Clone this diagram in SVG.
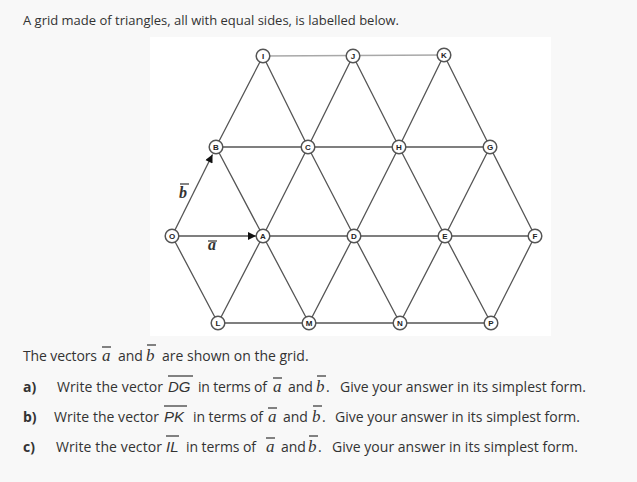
<svg xmlns="http://www.w3.org/2000/svg" width="637" height="482" viewBox="0 0 637 482">
<style>
.t{font-family:"Open Sans","Noto Sans",sans-serif;font-size:14px;fill:#333}
.tt{font-size:13px}
.bd{font-weight:bold}
.v{font-family:"Liberation Serif",serif;font-style:italic;font-size:17px;fill:#333}
.vs{font-family:"Liberation Sans",Arial,sans-serif;font-style:italic;font-size:15px;fill:#333}
.ob{stroke:#333;stroke-width:1.2}
.e{stroke:#555;stroke-width:1.3;fill:none}
.el{stroke:#a8a8a8;stroke-width:1.6;fill:none}
.n circle{fill:#fff;stroke:#555;stroke-width:1.5}
.n text{font-family:"Liberation Sans",Arial,sans-serif;font-weight:bold;font-size:8px;fill:#222;text-anchor:middle}
.vl{font-family:"Liberation Serif",serif;font-style:italic;font-weight:bold;font-size:16px;fill:#333}
</style>
<defs>
<marker id="arr" viewBox="0 0 10 10" refX="10" refY="5" markerWidth="11" markerHeight="8" markerUnits="userSpaceOnUse" orient="auto"><path d="M0,0 L10,5 L0,10 z" fill="#111"/></marker>
</defs>
<rect width="637" height="482" fill="#f8f8f8"/>
<rect x="150" y="37" width="401" height="299" fill="#fff"/>
<text class="t tt" x="23" y="25">A grid made of triangles, all with equal sides, is labelled below.</text>
<g id="connectors">
<path class="el" d="M263,56 L444,55"/>
<path class="e" d="M216,147 L490,147 M263,236 L535,236 M218,323 L491,323"/>
<path class="e" d="M263,56 L216,147 M263,56 L308,147 M353,56 L308,147 M353,56 L399,147 M444,55 L399,147 M444,55 L490,147"/>
<path class="e" d="M216,147 L263,236 M308,147 L263,236 M308,147 L354,236 M399,147 L354,236 M399,147 L445,236 M490,147 L445,236 M490,147 L535,236"/>
<path class="e" d="M172,236 L218,323 M263,236 L218,323 M263,236 L309,323 M354,236 L309,323 M354,236 L400,323 M445,236 L400,323 M445,236 L491,323 M535,236 L491,323"/>
<path class="e" d="M172,236 L256,236" marker-end="url(#arr)"/>
<path class="e" d="M172,236 L212.5,154.5" marker-end="url(#arr)"/>
</g>
<g id="vector-labels">
<text class="vl" x="179" y="198">b</text>
<line class="ob" x1="180" y1="184" x2="189" y2="184"/>
<text class="vl" x="208" y="250">a</text>
<line class="ob" x1="208" y1="241" x2="217" y2="241"/>
</g>
<g id="node-I" class="n"><circle cx="263" cy="56" r="6.8"/><text x="263" y="58.9">I</text></g>
<g id="node-J" class="n"><circle cx="353" cy="56" r="6.8"/><text x="353" y="58.9">J</text></g>
<g id="node-K" class="n"><circle cx="444" cy="55" r="6.8"/><text x="444" y="57.9">K</text></g>
<g id="node-B" class="n"><circle cx="216" cy="147" r="6.8"/><text x="216" y="149.9">B</text></g>
<g id="node-C" class="n"><circle cx="308" cy="147" r="6.8"/><text x="308" y="149.9">C</text></g>
<g id="node-H" class="n"><circle cx="399" cy="147" r="6.8"/><text x="399" y="149.9">H</text></g>
<g id="node-G" class="n"><circle cx="490" cy="147" r="6.8"/><text x="490" y="149.9">G</text></g>
<g id="node-O" class="n"><circle cx="172" cy="236" r="6.8"/><text x="172" y="238.9">O</text></g>
<g id="node-A" class="n"><circle cx="263" cy="236" r="6.8"/><text x="263" y="238.9">A</text></g>
<g id="node-D" class="n"><circle cx="354" cy="236" r="6.8"/><text x="354" y="238.9">D</text></g>
<g id="node-E" class="n"><circle cx="445" cy="236" r="6.8"/><text x="445" y="238.9">E</text></g>
<g id="node-F" class="n"><circle cx="535" cy="236" r="6.8"/><text x="535" y="238.9">F</text></g>
<g id="node-L" class="n"><circle cx="218" cy="323" r="6.8"/><text x="218" y="325.9">L</text></g>
<g id="node-M" class="n"><circle cx="309" cy="323" r="6.8"/><text x="309" y="325.9">M</text></g>
<g id="node-N" class="n"><circle cx="400" cy="323" r="6.8"/><text x="400" y="325.9">N</text></g>
<g id="node-P" class="n"><circle cx="491" cy="323" r="6.8"/><text x="491" y="325.9">P</text></g>
<g id="questions">
<text class="t" x="23" y="361" textLength="74">The vectors</text>
<text class="v" x="102" y="361">a</text><line class="ob" x1="102" y1="347" x2="111" y2="347"/>
<text class="t" x="118" y="361">and</text>
<text class="v" x="146" y="361">b</text><line class="ob" x1="147" y1="345" x2="156" y2="345"/>
<text class="t" x="162" y="361">are shown on the grid.</text>

<text class="t bd" x="23" y="392">a)</text>
<text class="t" x="57" y="392" textLength="106">Write the vector</text>
<text class="vs" x="168" y="392">DG</text><line class="ob" x1="168" y1="376" x2="193" y2="376"/>
<text class="t" x="198" y="392" textLength="69">in terms of</text>
<text class="v" x="273" y="392">a</text><line class="ob" x1="273" y1="378" x2="282" y2="378"/>
<text class="t" x="288" y="392">and</text>
<text class="v" x="316" y="392">b</text><line class="ob" x1="317" y1="376" x2="326" y2="376"/>
<text class="t" x="326" y="392">.</text>
<text class="t" x="340" y="392" textLength="246">Give your answer in its simplest form.</text>

<text class="t bd" x="23" y="422">b)</text>
<text class="t" x="54" y="422" textLength="105">Write the vector</text>
<text class="vs" x="164" y="422">PK</text><line class="ob" x1="164" y1="406" x2="187" y2="406"/>
<text class="t" x="193" y="422" textLength="70">in terms of</text>
<text class="v" x="268" y="422">a</text><line class="ob" x1="268" y1="408" x2="277" y2="408"/>
<text class="t" x="283" y="422">and</text>
<text class="v" x="312" y="422">b</text><line class="ob" x1="313" y1="406" x2="322" y2="406"/>
<text class="t" x="322" y="422">.</text>
<text class="t" x="335" y="422" textLength="245">Give your answer in its simplest form.</text>

<text class="t bd" x="23" y="452">c)</text>
<text class="t" x="56" y="452" textLength="106">Write the vector</text>
<text class="vs" x="166" y="452">IL</text><line class="ob" x1="166" y1="436" x2="179" y2="436"/>
<text class="t" x="186" y="452" textLength="70">in terms of</text>
<text class="v" x="266" y="452">a</text><line class="ob" x1="266" y1="438" x2="275" y2="438"/>
<text class="t" x="281" y="452">and</text>
<text class="v" x="308" y="452">b</text><line class="ob" x1="309" y1="436" x2="318" y2="436"/>
<text class="t" x="318" y="452">.</text>
<text class="t" x="332" y="452" textLength="246">Give your answer in its simplest form.</text>
</g>
</svg>
